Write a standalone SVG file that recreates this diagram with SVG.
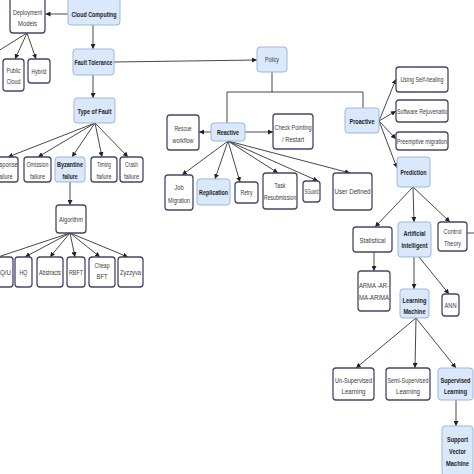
<svg xmlns="http://www.w3.org/2000/svg" width="474" height="474" viewBox="0 0 474 474">
<defs>
<marker id="ah" viewBox="0 0 10 10" refX="10" refY="5" markerWidth="5" markerHeight="5" markerUnits="userSpaceOnUse" orient="auto">
<path d="M0,0 L10,5 L0,10 Z" fill="#222"/>
</marker>
<style>
.w{fill:#fff;stroke:#45456a;stroke-width:1.3}
.b{fill:#dae8fc;stroke:#9fb6d8;stroke-width:1}
text{font-family:"Liberation Sans",Arial,sans-serif;font-size:7.5px;fill:#3a3a3a;text-anchor:middle}
.bt{font-weight:bold;fill:#222}
.s{font-size:6.5px}
.c line,.c polyline{stroke:#333;stroke-width:0.9;fill:none}
.a{marker-end:url(#ah)}
</style>
</defs>
<rect width="474" height="474" fill="#fff"/>
<g class="c">
<line class="a" x1="68" y1="14" x2="45.5" y2="14"/>
<line class="a" x1="93" y1="25" x2="93" y2="49"/>
<line class="a" x1="27" y1="33" x2="15" y2="59"/>
<line class="a" x1="27" y1="33" x2="36" y2="59"/>
<line x1="27" y1="33" x2="-5" y2="53"/>
<line class="a" x1="114" y1="62" x2="257" y2="60"/>
<line class="a" x1="93" y1="75" x2="93" y2="98"/>
<line class="a" x1="95" y1="123" x2="8" y2="157"/>
<line class="a" x1="95" y1="123" x2="38" y2="157"/>
<line class="a" x1="95" y1="123" x2="72" y2="157"/>
<line class="a" x1="95" y1="123" x2="102" y2="157"/>
<line class="a" x1="95" y1="123" x2="128" y2="157"/>
<line class="a" x1="70" y1="182" x2="70" y2="205"/>
<line x1="70" y1="233" x2="-5" y2="258"/>
<line class="a" x1="70" y1="233" x2="25" y2="257"/>
<line class="a" x1="70" y1="233" x2="50" y2="257"/>
<line class="a" x1="70" y1="233" x2="75" y2="257"/>
<line class="a" x1="70" y1="233" x2="100" y2="257"/>
<line class="a" x1="70" y1="233" x2="128" y2="257"/>
<polyline points="272,72 272,92"/>
<polyline points="227,123 227,92 363,92 363,108"/>
<line class="a" x1="211" y1="132" x2="199" y2="132"/>
<line class="a" x1="245" y1="132" x2="273" y2="132"/>
<line class="a" x1="228" y1="141" x2="182" y2="175"/>
<line class="a" x1="228" y1="141" x2="215" y2="179"/>
<line class="a" x1="228" y1="141" x2="240" y2="182"/>
<line class="a" x1="228" y1="141" x2="278" y2="173"/>
<line class="a" x1="228" y1="141" x2="318" y2="181"/>
<line class="a" x1="228" y1="141" x2="350" y2="173"/>
<line class="a" x1="379" y1="121" x2="396" y2="79"/>
<line class="a" x1="379" y1="121" x2="396" y2="111"/>
<line class="a" x1="379" y1="121" x2="396" y2="139"/>
<line class="a" x1="379" y1="121" x2="397" y2="168"/>
<line class="a" x1="413" y1="187" x2="375" y2="227"/>
<line class="a" x1="413" y1="187" x2="414" y2="222"/>
<line class="a" x1="413" y1="187" x2="450" y2="222"/>
<line x1="467" y1="233" x2="476" y2="233"/>
<line class="a" x1="374" y1="252" x2="374" y2="271"/>
<line class="a" x1="414" y1="257" x2="414" y2="289"/>
<line class="a" x1="419" y1="257" x2="449" y2="294"/>
<line class="a" x1="416" y1="318" x2="356" y2="368"/>
<line class="a" x1="416" y1="318" x2="415" y2="368"/>
<line class="a" x1="416" y1="318" x2="456" y2="368"/>
<line class="a" x1="456" y1="400" x2="456" y2="426"/>
</g>
<g id="deployment"><rect class="w" x="10" y="-3" width="35" height="36" rx="3"/><text x="27.5" y="15" textLength="29" lengthAdjust="spacingAndGlyphs">Deployment</text><text x="27.5" y="26" textLength="19" lengthAdjust="spacingAndGlyphs">Models</text></g>
<g id="cloud"><rect class="b" x="68" y="-3" width="52" height="28" rx="3"/><text class="bt" x="94" y="17" textLength="45" lengthAdjust="spacingAndGlyphs">Cloud Computing</text></g>
<g id="public"><rect class="w" x="3" y="59" width="21" height="32" rx="3"/><text x="13.5" y="73" textLength="14" lengthAdjust="spacingAndGlyphs">Public</text><text x="13.5" y="84" textLength="14" lengthAdjust="spacingAndGlyphs">Cloud</text></g>
<g id="hybrid"><rect class="w" x="28" y="59" width="22" height="24" rx="3"/><text x="39" y="74" textLength="15" lengthAdjust="spacingAndGlyphs">Hybrid</text></g>
<g id="fault"><rect class="b" x="73" y="49" width="41" height="26" rx="3"/><text class="bt" x="93.5" y="65" textLength="38" lengthAdjust="spacingAndGlyphs">Fault Tolerance</text></g>
<g id="type"><rect class="b" x="74" y="98" width="41" height="25" rx="3"/><text class="bt" x="94.5" y="114" textLength="34" lengthAdjust="spacingAndGlyphs">Type of Fault</text></g>
<g id="response"><rect class="w" x="-12" y="157" width="30" height="25" rx="3"/><text x="5" y="167" textLength="25" lengthAdjust="spacingAndGlyphs">Response</text><text x="5" y="179" textLength="15" lengthAdjust="spacingAndGlyphs">failure</text></g>
<g id="omission"><rect class="w" x="24" y="157" width="27" height="25" rx="3"/><text x="37.5" y="167" textLength="22" lengthAdjust="spacingAndGlyphs">Omission</text><text x="37.5" y="179" textLength="15" lengthAdjust="spacingAndGlyphs">failure</text></g>
<g id="byzantine"><rect class="b" x="55" y="157" width="30" height="25" rx="3"/><text class="bt" x="70" y="167" textLength="26" lengthAdjust="spacingAndGlyphs">Byzantine</text><text class="bt" x="70" y="179" textLength="15" lengthAdjust="spacingAndGlyphs">failure</text></g>
<g id="timing"><rect class="w" x="91" y="157" width="26" height="25" rx="3"/><text x="104" y="167" textLength="14" lengthAdjust="spacingAndGlyphs">Timing</text><text x="104" y="179" textLength="15" lengthAdjust="spacingAndGlyphs">failure</text></g>
<g id="crash"><rect class="w" x="120" y="157" width="23" height="25" rx="3"/><text x="131.5" y="167" textLength="13" lengthAdjust="spacingAndGlyphs">Crash</text><text x="131.5" y="179" textLength="15" lengthAdjust="spacingAndGlyphs">failure</text></g>
<g id="algorithm"><rect class="w" x="56" y="205" width="30" height="28" rx="3"/><text x="71" y="222" textLength="24" lengthAdjust="spacingAndGlyphs">Algorithm</text></g>
<g id="qu"><rect class="w" x="-12" y="257" width="25" height="30" rx="3"/><text x="5.5" y="275" textLength="11" lengthAdjust="spacingAndGlyphs">Q/U</text></g>
<g id="hq"><rect class="w" x="15" y="257" width="17" height="30" rx="3"/><text x="23.5" y="275" textLength="8" lengthAdjust="spacingAndGlyphs">HQ</text></g>
<g id="abstracts"><rect class="w" x="37" y="257" width="26" height="30" rx="3"/><text x="50" y="275" textLength="22" lengthAdjust="spacingAndGlyphs">Abstracts</text></g>
<g id="rbft"><rect class="w" x="67" y="257" width="18" height="30" rx="3"/><text x="76" y="275" textLength="14" lengthAdjust="spacingAndGlyphs">RBFT</text></g>
<g id="cheap"><rect class="w" x="89" y="257" width="26" height="30" rx="3"/><text x="102" y="268" textLength="15" lengthAdjust="spacingAndGlyphs">Cheap</text><text x="102" y="279" textLength="11" lengthAdjust="spacingAndGlyphs">BFT</text></g>
<g id="zyzzyva"><rect class="w" x="118" y="257" width="25" height="30" rx="3"/><text x="130.5" y="275" textLength="21" lengthAdjust="spacingAndGlyphs">Zyzzyva</text></g>
<g id="policy"><rect class="b" x="257" y="47" width="30" height="25" rx="3"/><text x="272" y="62" textLength="14" lengthAdjust="spacingAndGlyphs">Policy</text></g>
<g id="rescue"><rect class="w" x="167" y="115" width="32" height="35" rx="3"/><text x="183" y="131" textLength="17" lengthAdjust="spacingAndGlyphs">Rescue</text><text x="183" y="143" textLength="21" lengthAdjust="spacingAndGlyphs">workflow</text></g>
<g id="reactive"><rect class="b" x="211" y="123" width="34" height="18" rx="3"/><text class="bt" x="228" y="135" textLength="22" lengthAdjust="spacingAndGlyphs">Reactive</text></g>
<g id="checkpoint"><rect class="w" x="273" y="114" width="40" height="35" rx="3"/><text x="293" y="130" textLength="37" lengthAdjust="spacingAndGlyphs">Check Pointing</text><text x="293" y="142" textLength="22" lengthAdjust="spacingAndGlyphs">/ Restart</text></g>
<g id="job"><rect class="w" x="165" y="175" width="28" height="35" rx="3"/><text x="179" y="190" textLength="9" lengthAdjust="spacingAndGlyphs">Job</text><text x="179" y="203" textLength="22" lengthAdjust="spacingAndGlyphs">Migration</text></g>
<g id="replication"><rect class="b" x="197" y="179" width="33" height="26" rx="3"/><text class="bt" x="213.5" y="195" textLength="29" lengthAdjust="spacingAndGlyphs">Replication</text></g>
<g id="retry"><rect class="w" x="235" y="182" width="23" height="21" rx="3"/><text x="246.5" y="195" textLength="12" lengthAdjust="spacingAndGlyphs">Retry</text></g>
<g id="task"><rect class="w" x="263" y="173" width="34" height="36" rx="3"/><text x="280" y="188" textLength="11" lengthAdjust="spacingAndGlyphs">Task</text><text x="280" y="200" textLength="32" lengthAdjust="spacingAndGlyphs">Resubmission</text></g>
<g id="sguard"><rect class="w" x="303" y="181" width="17" height="21" rx="3"/><text x="311.5" y="194" textLength="14" lengthAdjust="spacingAndGlyphs">SGuard</text></g>
<g id="userdef"><rect class="w" x="333" y="173" width="39" height="37" rx="3"/><text x="352.5" y="194" textLength="36" lengthAdjust="spacingAndGlyphs">User Defined</text></g>
<g id="proactive"><rect class="b" x="345" y="108" width="34" height="25" rx="3"/><text class="bt" x="362" y="124" textLength="25" lengthAdjust="spacingAndGlyphs">Proactive</text></g>
<g id="selfheal"><rect class="w" x="396" y="67" width="52" height="25" rx="3"/><text x="422" y="82" textLength="43" lengthAdjust="spacingAndGlyphs">Using Self-healing</text></g>
<g id="rejuv"><rect class="w" x="396" y="100" width="52" height="22" rx="3"/><text x="422" y="114" textLength="50" lengthAdjust="spacingAndGlyphs">Software Rejuvenatio</text></g>
<g id="preempt"><rect class="w" x="396" y="132" width="52" height="18" rx="3"/><text x="422" y="144" textLength="50" lengthAdjust="spacingAndGlyphs">Preemptive migration</text></g>
<g id="prediction"><rect class="b" x="397" y="157" width="33" height="30" rx="3"/><text class="bt" x="413.5" y="175" textLength="26" lengthAdjust="spacingAndGlyphs">Prediction</text></g>
<g id="statistical"><rect class="w" x="353" y="227" width="39" height="25" rx="3"/><text x="372.5" y="243" textLength="26" lengthAdjust="spacingAndGlyphs">Statistical</text></g>
<g id="ai"><rect class="b" x="398" y="222" width="33" height="35" rx="3"/><text class="bt" x="414.5" y="236" textLength="22" lengthAdjust="spacingAndGlyphs">Artificial</text><text class="bt" x="414.5" y="248" textLength="26" lengthAdjust="spacingAndGlyphs">Intelligent</text></g>
<g id="control"><rect class="w" x="438" y="222" width="29" height="29" rx="3"/><text x="452.5" y="234" textLength="18" lengthAdjust="spacingAndGlyphs">Control</text><text x="452.5" y="246" textLength="17" lengthAdjust="spacingAndGlyphs">Theory</text></g>
<g id="arma"><rect class="w" x="358" y="271" width="32" height="40" rx="3"/><text x="374" y="288" textLength="30" lengthAdjust="spacingAndGlyphs">ARMA -AR-</text><text x="374" y="300" textLength="30" lengthAdjust="spacingAndGlyphs">MA-ARIMA</text></g>
<g id="lm"><rect class="b" x="400" y="289" width="29" height="29" rx="3"/><text class="bt" x="414.5" y="303" textLength="24" lengthAdjust="spacingAndGlyphs">Learning</text><text class="bt" x="414.5" y="314" textLength="22" lengthAdjust="spacingAndGlyphs">Machine</text></g>
<g id="ann"><rect class="w" x="442" y="294" width="17" height="22" rx="3"/><text x="450.5" y="308" textLength="12" lengthAdjust="spacingAndGlyphs">ANN</text></g>
<g id="unsup"><rect class="w" x="333" y="368" width="41" height="32" rx="3"/><text x="353.5" y="383" textLength="37" lengthAdjust="spacingAndGlyphs">Un-Supervised</text><text x="353.5" y="394" textLength="24" lengthAdjust="spacingAndGlyphs">Learning</text></g>
<g id="semisup"><rect class="w" x="386" y="368" width="44" height="32" rx="3"/><text class="s" x="408" y="383" textLength="41" lengthAdjust="spacingAndGlyphs">Semi-Supervised</text><text x="408" y="394" textLength="24" lengthAdjust="spacingAndGlyphs">Learning</text></g>
<g id="sup"><rect class="b" x="438" y="368" width="35" height="32" rx="3"/><text class="bt s" x="455.5" y="383" textLength="30" lengthAdjust="spacingAndGlyphs">Supervised</text><text class="bt" x="455.5" y="394" textLength="23" lengthAdjust="spacingAndGlyphs">Learning</text></g>
<g id="svm"><rect class="b" x="442" y="426" width="31" height="50" rx="3"/><text class="bt" x="457.5" y="442" textLength="21" lengthAdjust="spacingAndGlyphs">Support</text><text class="bt" x="457.5" y="454" textLength="17" lengthAdjust="spacingAndGlyphs">Vector</text><text class="bt" x="457.5" y="466" textLength="23" lengthAdjust="spacingAndGlyphs">Machine</text></g>
</svg>
